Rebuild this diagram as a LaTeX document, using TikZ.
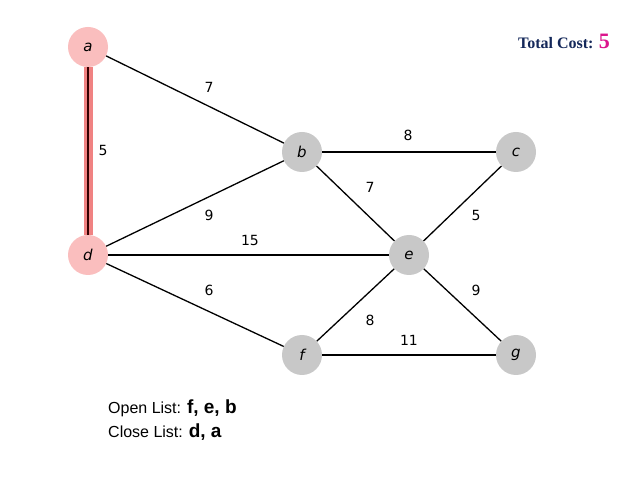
\documentclass[tikz,border=0pt]{standalone}
\usepackage{fontspec}
\setmainfont{DejaVu Sans}
\newfontfamily\arialf{Liberation Sans}
\newfontfamily\timesf{Liberation Serif}
\begin{document}
\begin{tikzpicture}[x=1pt,y=-1pt,
  vert/.style={circle,minimum size=40pt,inner sep=0pt,fill=#1,font=\fontsize{15}{15}\selectfont\itshape},
  edge/.style={black,line width=1.3pt},
  lbl/.style={font=\fontsize{14}{14}\selectfont,inner sep=1pt}]
\useasboundingbox (0,0) rectangle (638,478);
\fill[white] (0,0) rectangle (638,478);
\definecolor{gr}{RGB}{200,200,200}
\definecolor{pk}{RGB}{250,190,190}
\definecolor{hl}{RGB}{240,130,130}
\definecolor{navy}{RGB}{20,40,90}
\definecolor{mag}{RGB}{220,20,140}
\node[vert=pk] (a) at (88,47) {a};
\node[vert=gr] (b) at (302,152) {b};
\node[vert=gr] (c) at (516,152) {c};
\node[vert=pk] (d) at (88,255) {d};
\node[vert=gr] (e) at (409,255) {e};
\node[vert=gr] (f) at (302,355) {f};
\node[vert=gr] (g) at (516,355) {g};
\draw[hl,line width=9pt] (a) -- (d);
\draw[black!80!red,line width=2.5pt] (a) -- (d);
\draw[edge] (a) -- (b);
\draw[edge] (b) -- (c);
\draw[edge] (b) -- (e);
\draw[edge] (d) -- (b);
\draw[edge] (d) -- (e);
\draw[edge] (c) -- (e);
\draw[edge] (d) -- (f);
\draw[edge] (e) -- (g);
\draw[edge] (e) -- (f);
\draw[edge] (f) -- (g);
\node[lbl] (l1) at (209,87) {7};
\node[lbl] (l2) at (103,150) {5};
\node[lbl] (l3) at (408,135) {8};
\node[lbl] (l4) at (370,187) {7};
\node[lbl] (l5) at (209,215) {9};
\node[lbl] (l6) at (250,240) {15};
\node[lbl] (l7) at (476,215) {5};
\node[lbl] (l8) at (209,290) {6};
\node[lbl] (l9) at (476,290) {9};
\node[lbl] (l10) at (370,320) {8};
\node[lbl] (l11) at (409,340) {11};
\node[anchor=east,inner sep=0pt,text=navy,font=\timesf\bfseries\fontsize{16}{16}\selectfont] (tc) at (610,41) {Total Cost: \textcolor{mag}{\fontsize{22}{22}\selectfont 5}};
\node[anchor=west,inner sep=0pt,font=\arialf\fontsize{16}{16}\selectfont] (ol) at (108,408) {Open List: {\bfseries\fontsize{19}{19}\selectfont f, e, b}};
\node[anchor=west,inner sep=0pt,font=\arialf\fontsize{16}{16}\selectfont] (cl) at (108,432) {Close List: {\bfseries\fontsize{19}{19}\selectfont d, a}};
\end{tikzpicture}
\end{document}
